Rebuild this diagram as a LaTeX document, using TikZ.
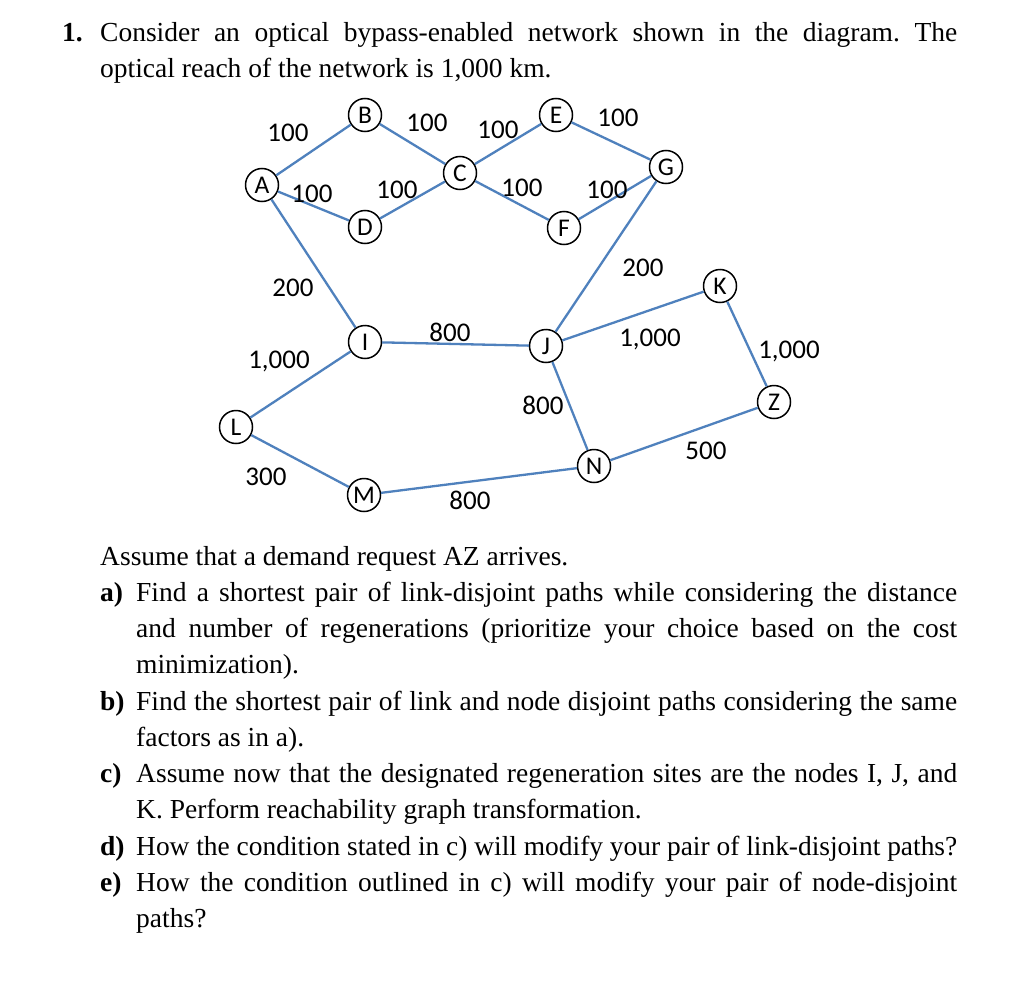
\documentclass[tikz,border=0pt]{standalone}
\usepackage{fontspec}
\usepackage{graphicx}
\setmainfont{Liberation Serif}
\newfontfamily\calfont{Carlito}
\frenchspacing
\newsavebox\jlbox
\newcommand{\jl}[2]{\sbox\jlbox{#2}\ifdim\wd\jlbox>#1\relax\resizebox{#1}{\height}{\usebox\jlbox}\else\makebox[#1][s]{#2}\fi}
\definecolor{edgeblue}{HTML}{4F81BD}
\tikzset{
  vtx/.style={circle,draw=black,line width=1.5pt,minimum size=33pt,inner sep=0pt,font=\calfont\fontsize{25.5}{25.5}\selectfont},
  lbl/.style={inner sep=0pt,font=\calfont\fontsize{27}{27}\selectfont},
  edge/.style={draw=edgeblue,line width=2.3pt},
  txt/.style={anchor=base west,inner sep=0pt,font=\fontsize{27.5}{36}\selectfont},
  btxt/.style={txt,font=\fontsize{27.5}{36}\selectfont\bfseries}
}
\begin{document}
\begin{tikzpicture}[x=1pt,y=-1pt]
\path[use as bounding box,fill=white] (0,0) rectangle (1024,1006);
% text
\node[btxt] (n1) at (62,42) {1.};
\node[txt] (t1) at (100,42) {\jl{857pt}{Consider an optical bypass-enabled network shown in the diagram. The}};
\node[txt] (t2) at (100,78) {optical reach of the network is 1,000 km.};
\node[txt] (t3) at (100,565) {Assume that a demand request AZ arrives.};
\node[btxt] (la) at (100,601) {a)};
\node[txt] (t4) at (136,601) {\jl{821pt}{Find a shortest pair of link-disjoint paths while considering the distance}};
\node[txt] (t5) at (136,637) {\jl{821pt}{and number of regenerations (prioritize your choice based on the cost}};
\node[txt] (t6) at (136,673) {minimization).};
\node[btxt] (lb) at (100,710) {b)};
\node[txt] (t7) at (136,710) {\jl{821pt}{Find the shortest pair of link and node disjoint paths considering the same}};
\node[txt] (t8) at (136,746) {factors as in a).};
\node[btxt] (lc) at (100,782) {c)};
\node[txt] (t9) at (136,782) {\jl{821pt}{Assume now that the designated regeneration sites are the nodes I, J, and}};
\node[txt] (t10) at (136,818) {K. Perform reachability graph transformation.};
\node[btxt] (ld) at (100,855) {d)};
\node[txt] (t11) at (136,855) {\jl{821pt}{How the condition stated in c) will modify your pair of link-disjoint paths?}};
\node[btxt] (le) at (100,891) {e)};
\node[txt] (t12) at (136,891) {\jl{821pt}{How the condition outlined in c) will modify your pair of node-disjoint}};
\node[txt] (t13) at (136,927) {paths?};
% nodes
\node[vtx] (A) at (262,185) {A};
\node[vtx] (B) at (365,115) {B};
\node[vtx] (C) at (460,173) {C};
\node[vtx] (D) at (365,227) {D};
\node[vtx] (E) at (556,115) {E};
\node[vtx] (F) at (564,228) {F};
\node[vtx] (G) at (666,167) {G};
\node[vtx] (I) at (365,342) {I};
\node[vtx] (J) at (546,346) {J};
\node[vtx] (K) at (720,286) {K};
\node[vtx] (Z) at (774,402) {Z};
\node[vtx] (L) at (236,427) {L};
\node[vtx] (N) at (594,466) {N};
\node[vtx] (M) at (364,495) {M};
% edges
\draw[edge] (A) -- (B);
\draw[edge] (B) -- (C);
\draw[edge] (C) -- (E);
\draw[edge] (E) -- (G);
\draw[edge] (A) -- (D);
\draw[edge] (D) -- (C);
\draw[edge] (C) -- (F);
\draw[edge] (F) -- (G);
\draw[edge] (A) -- (I);
\draw[edge] (G) -- (J);
\draw[edge] (I) -- (J);
\draw[edge] (J) -- (K);
\draw[edge] (K) -- (Z);
\draw[edge] (L) -- (I);
\draw[edge] (J) -- (N);
\draw[edge] (L) -- (M);
\draw[edge] (M) -- (N);
\draw[edge] (N) -- (Z);
% labels
\node[lbl] (lAB) at (288,133) {100};
\node[lbl] (lBC) at (427,123) {100};
\node[lbl] (lCE) at (498,130) {100};
\node[lbl] (lEG) at (618,118) {100};
\node[lbl] (lAD) at (312,194) {100};
\node[lbl] (lDC) at (397,190) {100};
\node[lbl] (lCF) at (522,188) {100};
\node[lbl] (lFG) at (607,190) {100};
\node[lbl] (lAI) at (293,288) {200};
\node[lbl] (lGJ) at (643,268) {200};
\node[lbl] (lIJ) at (450,332) {800};
\node[lbl] (lJK) at (650,339) {1,000};
\node[lbl] (lKZ) at (789,351) {1,000};
\node[lbl] (lLI) at (279,361) {1,000};
\node[lbl] (lJN) at (543,405) {800};
\node[lbl] (lLM) at (266,477) {300};
\node[lbl] (lMN) at (470,500) {800};
\node[lbl] (lNZ) at (706,451) {500};
\end{tikzpicture}
\end{document}
